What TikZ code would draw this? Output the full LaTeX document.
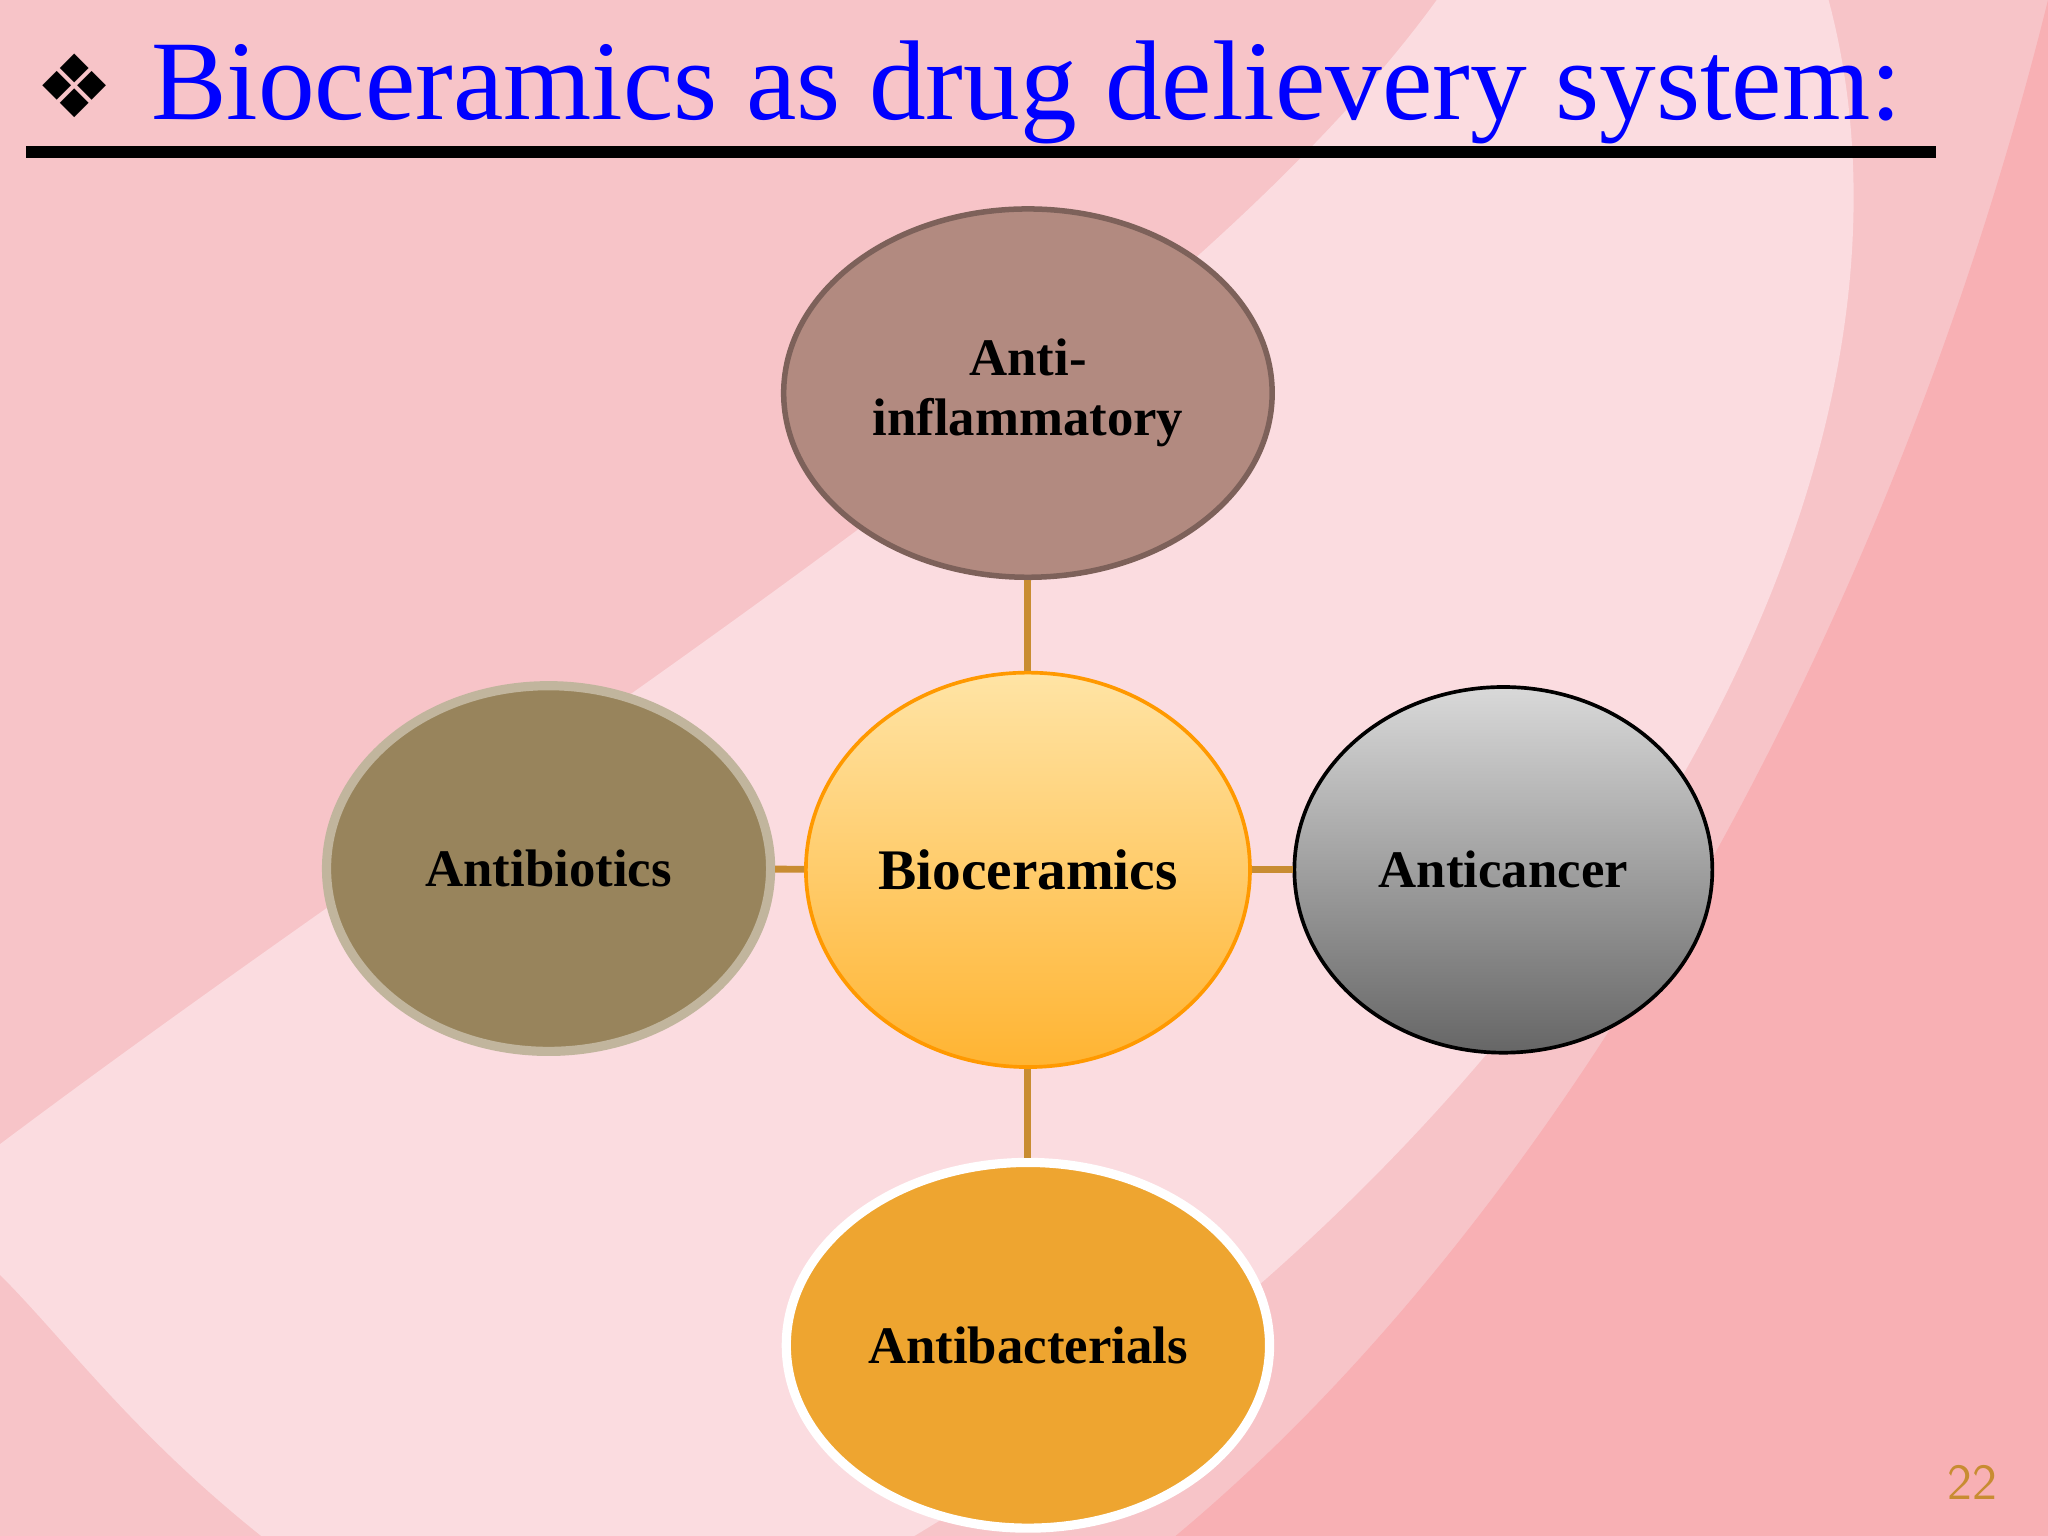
\documentclass[tikz,border=0pt]{standalone}
\usepackage{fontspec}
\setmainfont{Liberation Serif}
\newfontfamily\symfont{DejaVu Sans}
\usetikzlibrary{shapes.geometric}
\definecolor{bgpink}{RGB}{247,196,200}
\definecolor{lightpink}{RGB}{251,220,224}
\definecolor{linkcol}{RGB}{200,140,50}
\definecolor{mauve}{RGB}{178,138,128}
\definecolor{olive}{RGB}{152,132,92}
\definecolor{amber}{RGB}{238,165,48}
\tikzset{
  bubble/.style={ellipse, draw, inner sep=0pt, line width=1.2pt, font=\fontsize{11.5}{13}\selectfont\bfseries, align=center},
  link/.style={draw=linkcol, line width=1.5pt},
}
\begin{document}
\begin{tikzpicture}
    % BACKGROUND
    \fill[bgpink] (0,0) rectangle (15.68,11.76);
    \fill[lightpink] (0,3) .. controls (4,6) and (9,9) .. (11,11.76) -- (14,11.76)
        .. controls (15,8) and (12,3) .. (7,0) -- (2,0) .. controls (1,0.8) and (0.5,1.5) .. (0,2) -- cycle;
    \fill[bgpink!90!red] (15.68,11.76) .. controls (14.5,7) and (12,2.5) .. (9,0) -- (15.68,0) -- cycle;
    \useasboundingbox (0,0) rectangle (15.68,11.76);

    % TITLE
    \node[anchor=west, font=\symfont\fontsize{19}{21}\selectfont] (bullet) at (0.15,11.1) {❖};
    \node[anchor=west, text=blue, font=\fontsize{24.7}{28}\selectfont, inner sep=0pt] (title) at (1.15,11.05) {Bioceramics as drug delievery system:};
    \fill[black] (0.2,10.55) rectangle (14.82,10.64);

    % BUBBLES
    \node[bubble, fill=mauve, draw=mauve!70!black, minimum width=3.74cm, minimum height=2.82cm] (anti) at (7.87,8.75) {Anti-\\inflammatory};
    \node[bubble, top color={rgb,255:red,255;green,228;blue,165}, bottom color={rgb,255:red,255;green,180;blue,50}, draw=orange!80!yellow, line width=0.8pt, minimum width=3.4cm, minimum height=3.02cm, font=\fontsize{12.5}{15}\selectfont\bfseries] (bio) at (7.87,5.10) {Bioceramics};
    \node[bubble, fill=olive, draw=olive!60!white, line width=2pt, minimum width=3.4cm, minimum height=2.8cm] (antibio) at (4.20,5.11) {Antibiotics};
    \node[bubble, top color=black!15, bottom color=black!60, draw=black, line width=0.8pt, minimum width=3.2cm, minimum height=2.8cm] (cancer) at (11.51,5.10) {Anticancer};
    \node[bubble, fill=amber, draw=white, line width=2pt, minimum width=3.7cm, minimum height=2.8cm] (bact) at (7.87,1.46) {Antibacterials};

    % LINKS
    \path[link] (anti) -- (bio);
    \path[link] (bio) -- (bact);
    \path[link] (antibio) -- (bio);
    \path[link] (bio) -- (cancer);

    % PAGE NUMBER
    \node[text=linkcol, font=\sffamily\fontsize{11}{12}\selectfont] (page) at (15.10,0.41) {22};
\end{tikzpicture}
\end{document}
